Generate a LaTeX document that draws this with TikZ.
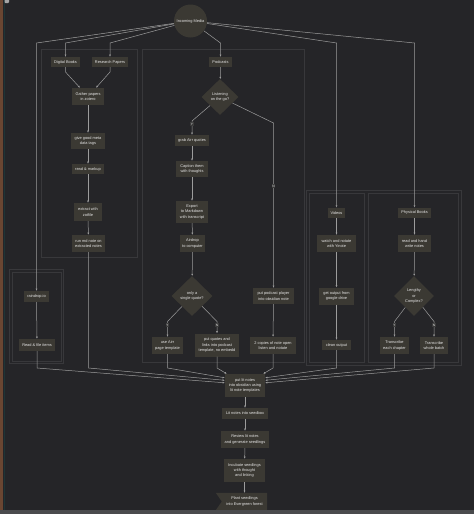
\documentclass[tikz,border=0pt]{standalone}
\usepackage{fontspec}
\setmainfont{Liberation Sans}
\usetikzlibrary{arrows.meta,calc,shapes.geometric}
\definecolor{bgc}{HTML}{252528}
\definecolor{nodefill}{HTML}{3B3933}
\definecolor{txt}{HTML}{E6E6E6}
\definecolor{linec}{HTML}{9C9C9C}
\definecolor{grpc}{HTML}{38383B}
\definecolor{lblbg}{HTML}{3A3A3A}
\definecolor{brownc}{HTML}{6A4632}
\definecolor{tealc}{HTML}{1F3536}
\definecolor{stripc}{HTML}{4A4B4D}
\pgfdeclarelayer{bgl}
\pgfsetlayers{bgl,main}
\tikzset{
  nd/.style={rectangle, fill=nodefill, text=txt, font=\fontsize{3.9}{5.4}\selectfont, align=center, inner sep=0pt},
  sz/.style 2 args={minimum width=#1pt, minimum height=#2pt},
  dia/.style={diamond, aspect=1, fill=nodefill, text=txt, font=\fontsize{3.9}{5.4}\selectfont, align=center, inner sep=0pt},
  conn/.style={draw=linec, line width=0.5pt, -{Latex[length=2.2pt,width=2pt]}},
  grp/.style={draw=grpc, line width=0.6pt},
  yn/.style={fill=lblbg, text=txt, font=\fontsize{3.2}{4}\selectfont, inner sep=0.7pt}
}
\begin{document}
\begin{tikzpicture}[x=1pt,y=-1pt]
\useasboundingbox (0,0) rectangle (474,514);
\begin{pgfonlayer}{bgl}
\fill[bgc] (0,0) rectangle (474,514);
\fill[brownc] (0,0) rectangle (3,514);
\fill[tealc] (3.6,0) rectangle (5,514);
\fill[gray!70, rounded corners=0.8pt] (4.5,-1) rectangle (9,3);
% groups
\draw[grp] (41,49) rectangle (137,257);
\draw[grp] (142,49) rectangle (304,362);
\draw[grp] (9,269) rectangle (63,363);
\draw[grp] (12,272) rectangle (61,361);
\draw[grp] (306.5,190) rectangle (461.5,365);
\draw[grp] (309,193) rectangle (364,362);
\draw[grp] (368,193) rectangle (458,362);
\end{pgfonlayer}

% nodes
\node[circle, fill=nodefill, text=txt, font=\fontsize{3.9}{5.4}\selectfont, minimum size=33pt, inner sep=0pt] (inc) at (190.5,21) {Incoming Media};
\node[nd, sz={29}{10}] (db) at (65.5,62) {Digital Books};
\node[nd, sz={36}{10}] (rp) at (110,62) {Research Papers};
\node[nd, sz={32}{17}] (gz) at (88,96.5) {Gather papers\\in zotero};
\node[nd, sz={34}{16}] (meta) at (88,141) {give good meta\\data tags};
\node[nd, sz={32}{10}] (read) at (88,169) {read \& markup};
\node[nd, sz={28}{18}] (extract) at (88,212) {extract with\\zotfile};
\node[nd, sz={33}{17}] (runmd) at (88.5,243.5) {run md note on\\extracted notes};
\node[nd, sz={25}{11}] (rain) at (36.5,296.5) {raindrop.io};
\node[nd, sz={36}{12}] (rfi) at (37,345) {Read \& file items};

\node[nd, sz={23}{10}] (pod) at (220.5,62) {Podcasts};
\node[dia, minimum width=37pt, minimum height=36pt] (listen) at (220,97) {Listening\\on the go?};
\node[nd, sz={34}{11}] (grab) at (192,140.5) {grab Airr quotes};
\node[nd, sz={32}{16}] (caption) at (192,169) {Caption them\\with thoughts};
\node[nd, sz={32}{22}] (export) at (192,212) {Export\\to Markdown\\with transcript};
\node[nd, sz={25}{17}] (airdrop) at (192.5,243.5) {Airdrop\\to computer};
\node[dia, minimum width=41pt, minimum height=40pt] (single) at (192,296) {only a\\single quote?};
\node[nd, sz={31}{17}] (usea) at (167.5,345.5) {use Airr\\page template};
\node[nd, sz={44}{23}] (putq) at (217,345) {put quotes and\\links into podcast\\template, no embedd};
\node[nd, sz={41}{16}] (player) at (273.5,296) {put podcast player\\into obsidian note};
\node[nd, sz={46}{17}] (copies) at (273,345.5) {2 copies of note open\\listen and notate};

\node[nd, sz={17}{10}] (videos) at (336.5,212.7) {Videos};
\node[nd, sz={39}{17}] (watch) at (336.5,243.5) {watch and notate\\with Yinote};
\node[nd, sz={35}{17}] (gdrive) at (336.5,296) {get output from\\google drive};
\node[nd, sz={29}{10}] (clean) at (336.5,345) {clean output};

\node[nd, sz={33}{10}] (phys) at (414.5,212.7) {Physical Books};
\node[nd, sz={33}{17}] (hand) at (414.5,243.5) {read and hand\\write notes};
\node[dia, minimum width=40pt, minimum height=40pt] (lengthy) at (414,296) {Lengthy\\or\\Complex?};
\node[nd, sz={29}{17}] (tch) at (394.5,345.5) {Transcribe\\each chapter};
\node[nd, sz={28}{17}] (twb) at (434,345.5) {Transcribe\\whole batch};

\node[nd, sz={40}{23}] (lit) at (245,385.5) {put lit notes\\into obsidian using\\lit note templates};
\node[nd, sz={46}{11}] (seed) at (245,413.5) {Lit notes into seedbox};
\node[nd, sz={48}{17}] (review) at (245,439.5) {Review lit notes\\and generate seedlings};
\node[nd, sz={41}{23}] (incub) at (244.5,470.5) {Incubate seedlings\\with thought\\and linking};
\node[nd, fill=none, sz={45}{17}] (plant) at (244.5,501.5) {Plant seedlings\\into Evergreen forest};
\begin{pgfonlayer}{bgl}
\fill[nodefill] ($(plant.north west)+(-6,0)$) -- (plant.north east) -- (plant.south east) -- ($(plant.south west)+(-6,0)$) -- (plant.west) -- cycle;
\end{pgfonlayer}

% connectors from Incoming Media
\draw[conn] (inc) -- (36.5,43) -- (rain);
\draw[conn] (inc) -- (65.5,43) -- (db);
\draw[conn] (inc) -- (110,43) -- (rp);
\draw[conn] (inc) -- (220.5,43) -- (pod);
\draw[conn] (inc) -- (336.5,43) -- (videos);
\draw[conn] (inc) -- (414.5,43) -- (phys);

% digital books / research column
\draw[conn] (db) -- (65.5,72) -- ($(gz.north)+(-8,0)$);
\draw[conn] (rp) -- (110,72) -- ($(gz.north)+(8,0)$);
\draw[conn] (gz) -- (meta);
\draw[conn] (meta) -- (read);
\draw[conn] (read) -- (extract);
\draw[conn] (extract) -- (runmd);
\draw[conn] (rain) -- (rfi);

% podcasts column
\draw[conn] (pod) -- (listen);
\draw[conn] (listen) -- (192,121) -- (grab);
\draw[conn] (listen) -- (273.5,123) -- (player);
\draw[conn] (grab) -- (caption);
\draw[conn] (caption) -- (export);
\draw[conn] (export) -- (airdrop);
\draw[conn] (airdrop) -- (single);
\draw[conn] (single) -- (167.5,321.5) -- (usea);
\draw[conn] (single) -- (217,321.5) -- (putq);
\draw[conn] (player) -- (copies);

% videos and physical books
\draw[conn] (videos) -- (watch);
\draw[conn] (watch) -- (gdrive);
\draw[conn] (gdrive) -- (clean);
\draw[conn] (phys) -- (hand);
\draw[conn] (hand) -- (lengthy);
\draw[conn] (lengthy) -- (394.5,321.5) -- (tch);
\draw[conn] (lengthy) -- (434,321.5) -- (twb);

% into lit notes
\draw[conn] (rfi) -- (37,368) -- ($(lit.north west)+(0,9)$);
\draw[conn] (runmd) -- (88.5,368) -- ($(lit.north west)+(0,6.5)$);
\draw[conn] (usea) -- (167.5,368) -- ($(lit.north west)+(0,4)$);
\draw[conn] (putq) -- (217,368) -- ($(lit.north west)+(2,0)$);
\draw[conn] (copies) -- (273,368) -- ($(lit.north east)+(-2,0)$);
\draw[conn] (clean) -- (336.5,368) -- ($(lit.north east)+(0,4)$);
\draw[conn] (tch) -- (394.5,368) -- ($(lit.north east)+(0,6.5)$);
\draw[conn] (twb) -- (434,368) -- ($(lit.north east)+(0,9)$);

% bottom chain
\draw[conn] (lit) -- (seed);
\draw[conn] (seed) -- (review);
\draw[conn] (review) -- (incub);
\draw[conn] (incub) -- (plant);

% Y/N labels
\node[yn] (l1) at (192,124) {Y};
\node[yn] (l2) at (273.5,186) {N};
\node[yn] (l3) at (167.5,325) {Y};
\node[yn] (l4) at (217,325) {N};
\node[yn] (l5) at (394.5,325) {Y};
\node[yn] (l6) at (434,325) {N};

% bottom strip
\fill[stripc] (0,509.5) rectangle (474,514);
\end{tikzpicture}
\end{document}
